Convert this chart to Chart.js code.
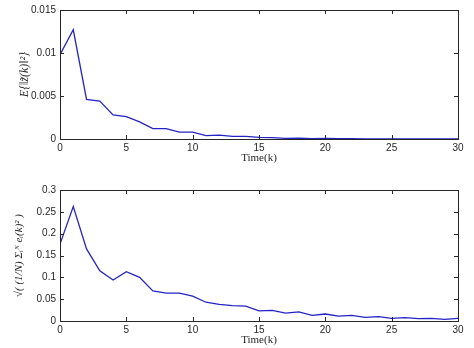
<!DOCTYPE html>
<html lang="en">
<head>
    <meta charset="UTF-8">
    <title>Error plots</title>
    <script src="https://cdn.jsdelivr.net/npm/chart.js"></script>
    <style>
        body { margin: 0; background: #fff; }
        canvas { display: block; }
    </style>
</head>
<body>
    <canvas id="topChart" width="474" height="174"></canvas>
    <canvas id="bottomChart" width="474" height="174"></canvas>
    <script>
        // time steps k = 0..30
        const timeSteps = [0, 1, 2, 3, 4, 5, 6, 7, 8, 9, 10, 11, 12, 13, 14, 15,
            16, 17, 18, 19, 20, 21, 22, 23, 24, 25, 26, 27, 28, 29, 30];

        // E{||z(k)||^2}
        const meanSquareErr = [0.0098, 0.0127, 0.0046, 0.0044, 0.0028, 0.0026, 0.0020, 0.0012,
            0.0012, 0.0008, 0.0008, 0.0004, 0.00045, 0.0003, 0.0003, 0.0002,
            0.00015, 0.00008, 0.0001, 0.00005, 0.00006, 0.00003, 0.00003, 0.00002,
            0.00002, 0.00002, 0.00002, 0.00002, 0.00002, 0.00002, 0.00002];

        // sqrt(1/N sum e_i(k)^2)
        const rmsErr = [0.176, 0.262, 0.165, 0.115, 0.094, 0.113, 0.100, 0.069,
            0.064, 0.064, 0.057, 0.043, 0.038, 0.035, 0.034, 0.023,
            0.0245, 0.018, 0.021, 0.013, 0.016, 0.011, 0.013, 0.0085,
            0.0099, 0.0061, 0.0076, 0.0053, 0.0061, 0.0038, 0.006];

        const xTicks = [0, 5, 10, 15, 20, 25, 30];
        const yTicksTop = [0, 0.005, 0.01, 0.015];
        const yTickLabelsTop = ['0', '0.005', '0.01', '0.015'];
        const yTicksBottom = [0, 0.05, 0.1, 0.15, 0.2, 0.25, 0.3];
        const yTickLabelsBottom = ['0', '0.05', '0.1', '0.15', '0.2', '0.25', '0.3'];

        const axisColor = '#262626';
        const lineColor = '#2424c6';

        // box around the plot with inward ticks on all four sides (matlab style)
        const boxPlugin = {
            id: 'box',
            afterDraw(chart) {
                const { ctx, chartArea: a, scales } = chart;
                ctx.save();
                ctx.strokeStyle = axisColor;
                ctx.lineWidth = 1;
                ctx.strokeRect(a.left + 0.5, a.top + 0.5, a.right - a.left, a.bottom - a.top);
                const len = 4;
                ctx.beginPath();
                scales.x.ticks.forEach(t => {
                    const px = Math.round(scales.x.getPixelForValue(t.value)) + 0.5;
                    ctx.moveTo(px, a.bottom); ctx.lineTo(px, a.bottom - len);
                    ctx.moveTo(px, a.top); ctx.lineTo(px, a.top + len);
                });
                scales.y.ticks.forEach(t => {
                    const py = Math.round(scales.y.getPixelForValue(t.value)) + 0.5;
                    ctx.moveTo(a.left, py); ctx.lineTo(a.left + len, py);
                    ctx.moveTo(a.right, py); ctx.lineTo(a.right - len, py);
                });
                ctx.stroke();
                ctx.restore();
            }
        };

        function makeChart(id, values, yTicks, yLabels, yTitle, titleSize, titlePad, pad) {
            const yMax = yTicks[yTicks.length - 1];
            return new Chart(document.getElementById(id), {
                type: 'line',
                data: {
                    datasets: [{
                        data: timeSteps.map((k, i) => ({ x: k, y: values[i] })),
                        borderColor: lineColor,
                        borderWidth: 1.3,
                        pointRadius: 0,
                        tension: 0,
                        fill: false
                    }]
                },
                options: {
                    responsive: false,
                    animation: false,
                    layout: { padding: pad },
                    plugins: { legend: { display: false }, tooltip: { enabled: false } },
                    scales: {
                        x: {
                            type: 'linear',
                            min: 0, max: 30,
                            afterBuildTicks: s => { s.ticks = xTicks.map(v => ({ value: v })); },
                            grid: { display: false, drawTicks: false },
                            border: { display: false },
                            ticks: {
                                color: axisColor,
                                font: { family: 'Liberation Sans', size: 10 },
                                padding: 3,
                                maxRotation: 0
                            },
                            title: {
                                display: true,
                                text: 'Time(k)',
                                color: axisColor,
                                font: { family: 'Liberation Serif', size: 11 },
                                padding: 0
                            },
                            afterFit: s => { s.height = 26; }
                        },
                        y: {
                            type: 'linear',
                            min: 0, max: yMax,
                            afterBuildTicks: s => { s.ticks = yTicks.map(v => ({ value: v })); },
                            grid: { display: false, drawTicks: false },
                            border: { display: false },
                            ticks: {
                                color: axisColor,
                                font: { family: 'Liberation Sans', size: 10 },
                                padding: 4,
                                callback: v => yLabels[yTicks.indexOf(v)]
                            },
                            title: {
                                display: true,
                                text: yTitle,
                                color: axisColor,
                                font: { family: 'Liberation Serif', size: titleSize, style: 'italic' },
                                padding: { top: titlePad, bottom: 0 }
                            },
                            afterFit: s => { s.width = 60; }
                        }
                    }
                },
                plugins: [boxPlugin]
            });
        }

        makeChart('topChart', meanSquareErr, yTicksTop, yTickLabelsTop,
            'E{‖z̃(k)‖²}', 12, 18, { top: 8, right: 16, left: 0, bottom: 9 });
        makeChart('bottomChart', rmsErr, yTicksBottom, yTickLabelsBottom,
            '√( (1/N) Σᵢᴺ eᵢ(k)² )', 11, 13, { top: 16, right: 16, left: 0, bottom: 1 });
    </script>
</body>
</html>
